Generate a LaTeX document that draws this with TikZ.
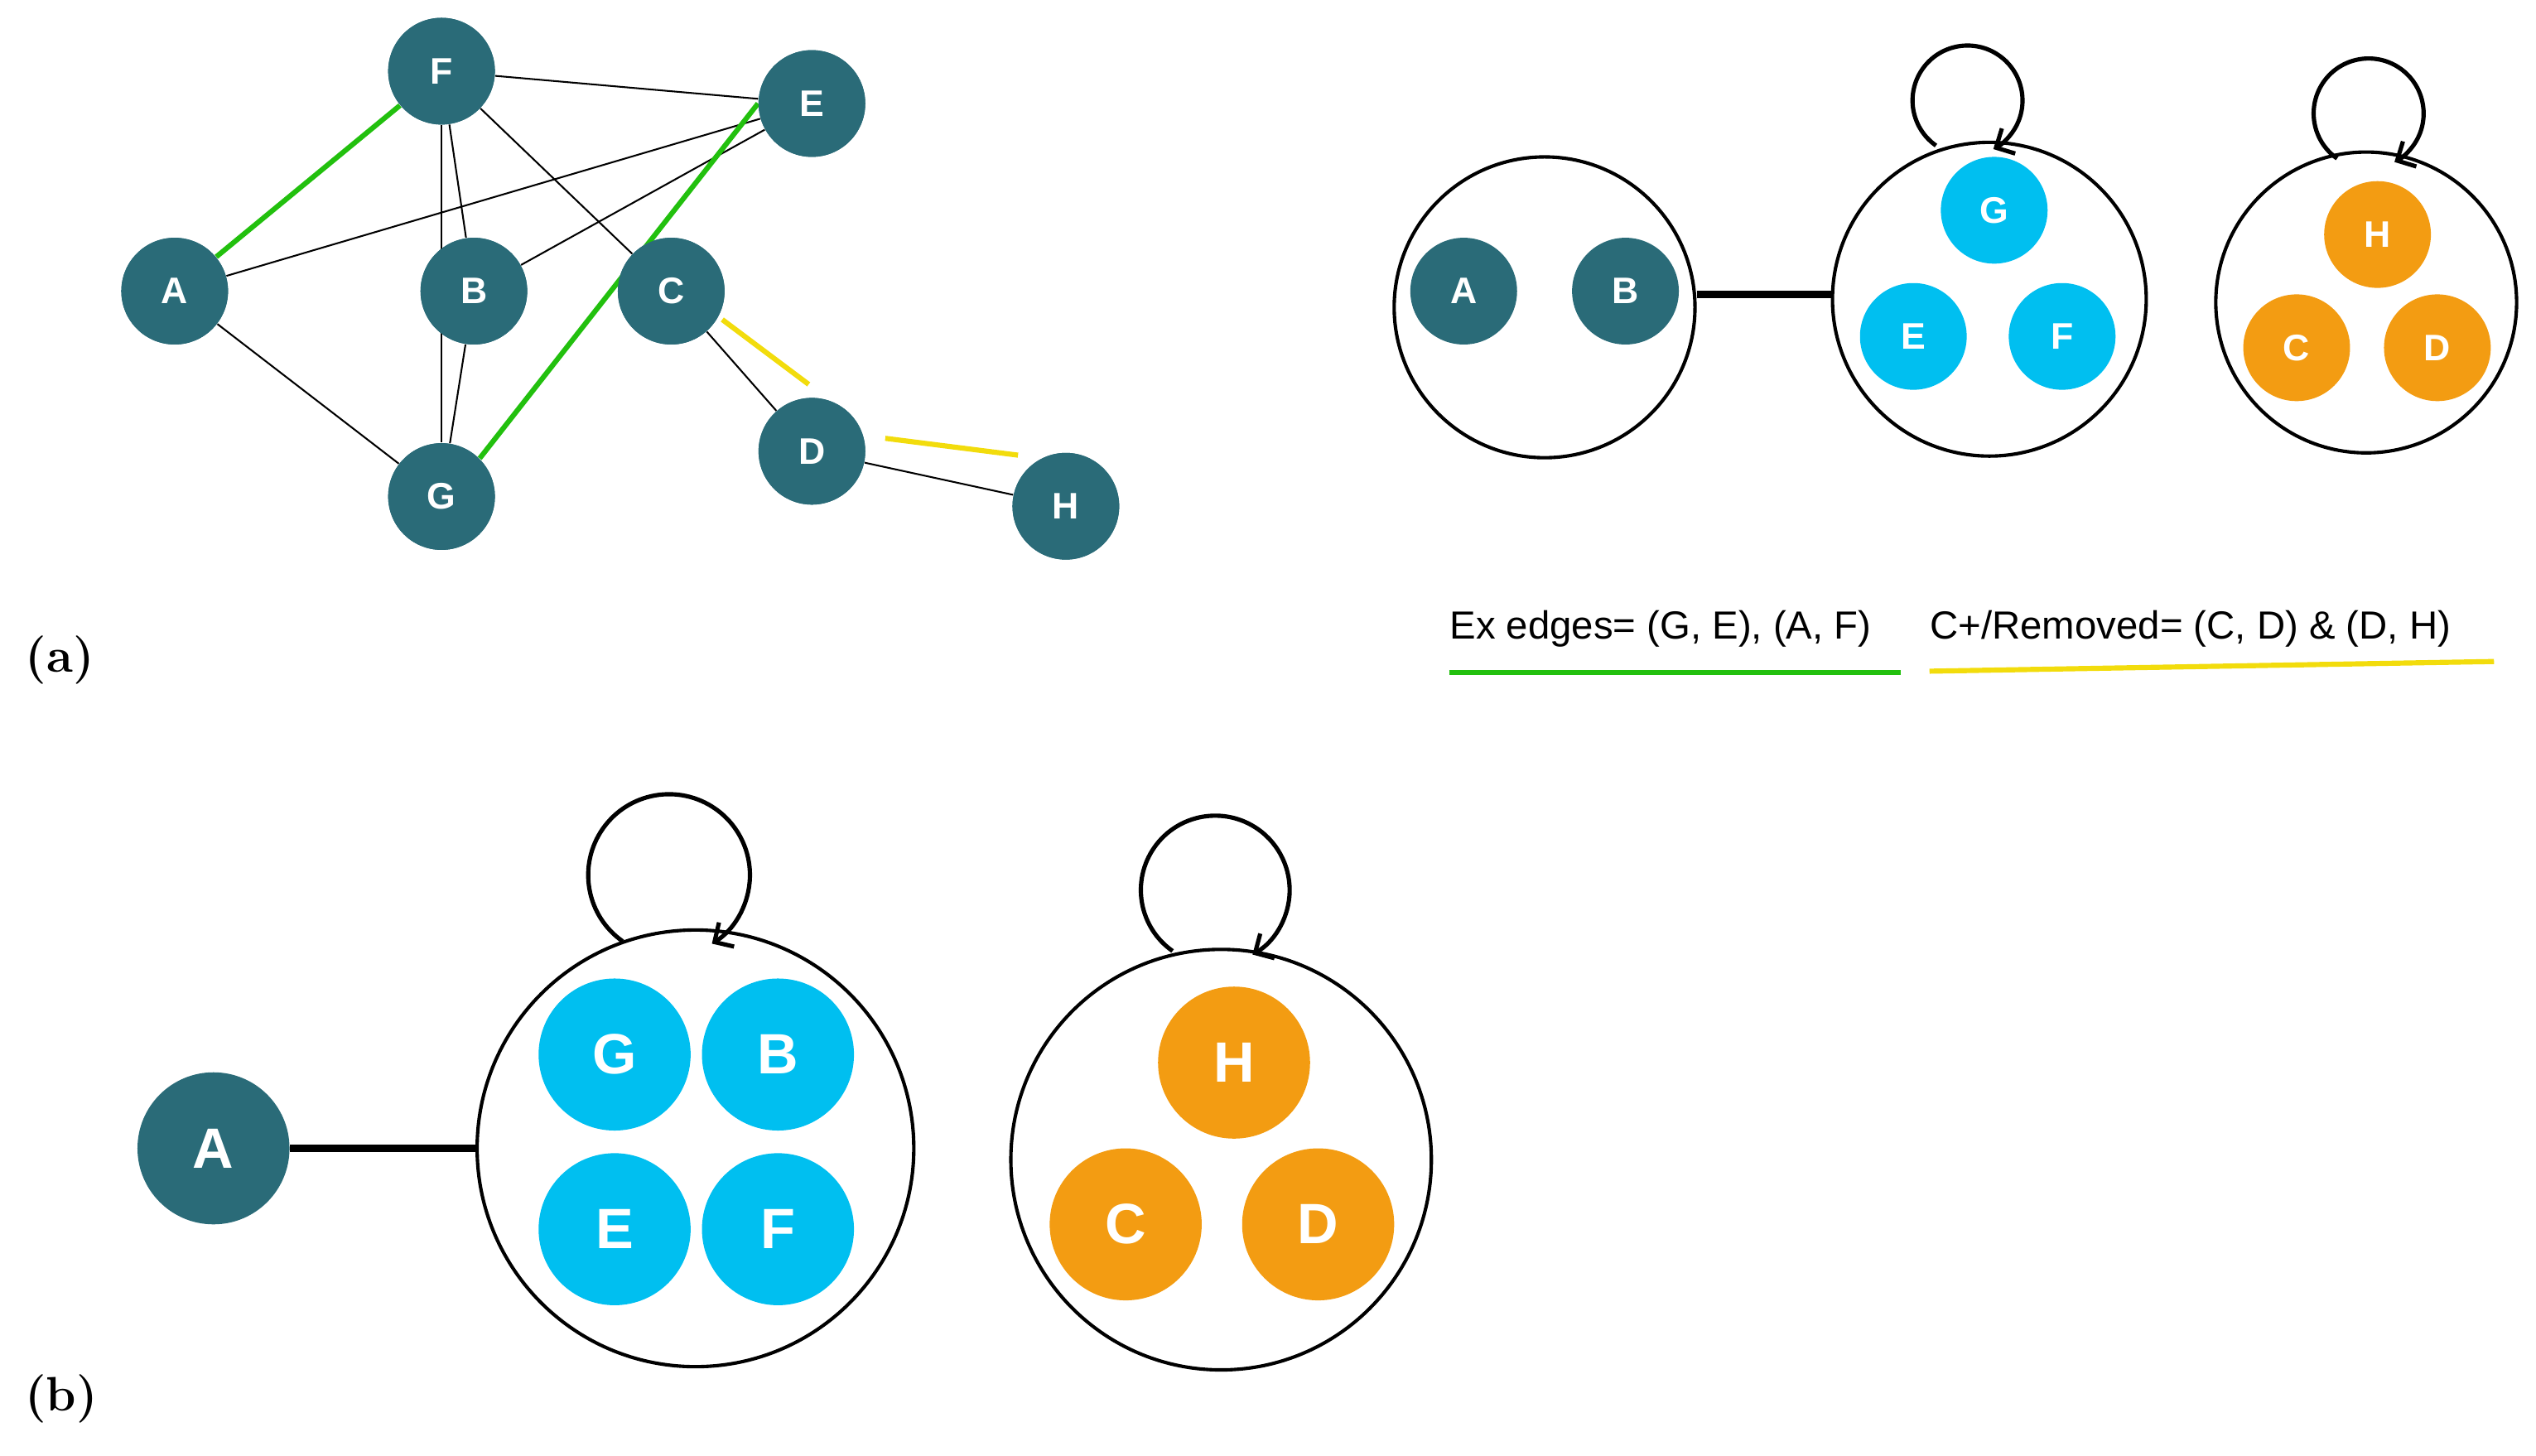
\documentclass[tikz,border=0pt]{standalone}
\usepackage{fontspec}
\setmainfont{Latin Modern Roman}
\newfontfamily\lsans{Liberation Sans}
\usetikzlibrary{arrows.meta}
\begin{document}
\begin{tikzpicture}[x=0.02cm,y=0.02cm,
 teal/.style={circle,fill=tealc,text=white,font=\lsans\bfseries\fontsize{13}{13}\selectfont,minimum size=66*0.02cm,inner sep=0pt},
 cyanb/.style={teal,fill=cyanc},
 orb/.style={teal,fill=orc},
 bigt/.style={teal,minimum size=94*0.02cm,font=\lsans\bfseries\fontsize{20}{20}\selectfont},
 bigc/.style={bigt,fill=cyanc},
 bigo/.style={bigt,fill=orc},
 ring/.style={circle,draw=black,line width=1.2pt,inner sep=0pt},
 edge/.style={line width=0.6pt},
 ex/.style={line width=1.8pt,draw=greenc},
 yl/.style={line width=1.8pt,draw=yellowc},
 link/.style={line width=2.5pt},
 loopst/.style={line width=1.5pt,-{Straight Barb[length=5pt]}},
 lab/.style={font=\bfseries\fontsize{17}{17}\selectfont}]
\definecolor{tealc}{HTML}{2A6B78}
\definecolor{cyanc}{HTML}{00BFF0}
\definecolor{orc}{HTML}{F39C12}
\definecolor{greenc}{HTML}{22C00E}
\definecolor{yellowc}{HTML}{F2DC0C}
\useasboundingbox (0,0) rectangle (1568,-900);
% (a) graph
\node[teal] (F) at (273,-44) {F};
\node[teal] (E) at (502,-64) {E};
\node[teal] (A) at (108,-180) {A};
\node[teal] (B) at (293,-180) {B};
\node[teal] (C) at (415,-180) {C};
\node[teal] (D) at (502,-279) {D};
\node[teal] (H) at (659,-313) {H};
\node[teal] (G) at (273,-307) {G};
\draw[edge] (F) -- (E); \draw[edge] (F) -- (B); \draw[edge] (F) -- (G);
\draw[edge] (F) -- (C); \draw[edge] (A) -- (E); \draw[edge] (A) -- (G);
\draw[edge] (B) -- (E); \draw[edge] (B) -- (G); \draw[edge] (C) -- (D);
\draw[edge] (D) -- (H);
\draw[ex] (A) -- (F); \draw[ex] (G.north east) -- (E.west);
\draw[yl] ([shift={(8,6)}]C.south east) -- ([shift={(-2,8)}]D.north);
\draw[yl] ([shift={(12,8)}]D.east) -- ([shift={(-6,8)}]H.north west);
\foreach \n in {F,E,A,B,C,D,H,G} \node[teal] at (\n) {\n};
% (a) right clusters
\node[ring,minimum size=186*0.02cm] (R1) at (955,-190) {};
\node[teal] (A2) at (905,-180) {A};
\node[teal] (B2) at (1005,-180) {B};
\node[ring,minimum size=194*0.02cm] (R2) at (1230,-185) {};
\node[cyanb] (G2) at (1233,-130) {G};
\node[cyanb] (E2) at (1183,-208) {E};
\node[cyanb] (F2) at (1275,-208) {F};
\node[ring,minimum size=186*0.02cm] (R3) at (1463,-187) {};
\node[orb] (H2) at (1470,-145) {H};
\node[orb] (C2) at (1420,-215) {C};
\node[orb] (D2) at (1507,-215) {D};
\draw[link] (R1.east |- 0,-182) -- (R2.west |- 0,-182);
\draw[loopst] (1197,-90) arc[start angle=235,end angle=-62,radius=34];
\draw[loopst] (1445,-98) arc[start angle=235,end angle=-62,radius=34];
% legend
\node[anchor=base west,inner sep=0pt,font=\lsans\fontsize{13.8}{13.8}\selectfont] (L1) at (896,-395) {Ex edges= (G, E), (A, F)};
\node[anchor=base west,inner sep=0pt,font=\lsans\fontsize{13.8}{13.8}\selectfont] (L2) at (1193,-395) {C+/Removed= (C, D) \& (D, H)};
\draw[ex] (896,-416) -- (1175,-416);
\draw[yl] (1193,-415) -- (1542,-409);
\node[lab] (la) at (37,-408) {(a)};
% (b)
\node[bigt] (A3) at (132,-710) {A};
\node[ring,minimum size=270*0.02cm] (R4) at (430,-710) {};
\node[bigc] (G3) at (380,-652) {G};
\node[bigc] (B3) at (481,-652) {B};
\node[bigc] (E3) at (380,-760) {E};
\node[bigc] (F3) at (481,-760) {F};
\node[ring,minimum size=260*0.02cm] (R5) at (755,-717) {};
\node[bigo] (H3) at (763,-657) {H};
\node[bigo] (C3) at (696,-757) {C};
\node[bigo] (D3) at (815,-757) {D};
\draw[link] (A3) -- (R4.west);
\draw[loopst] (385,-582) arc[start angle=235,end angle=-58,radius=50];
\draw[loopst] (725,-588) arc[start angle=235,end angle=-60,radius=46];
\node[lab] (lb) at (38,-865) {(b)};
\end{tikzpicture}
\end{document}
